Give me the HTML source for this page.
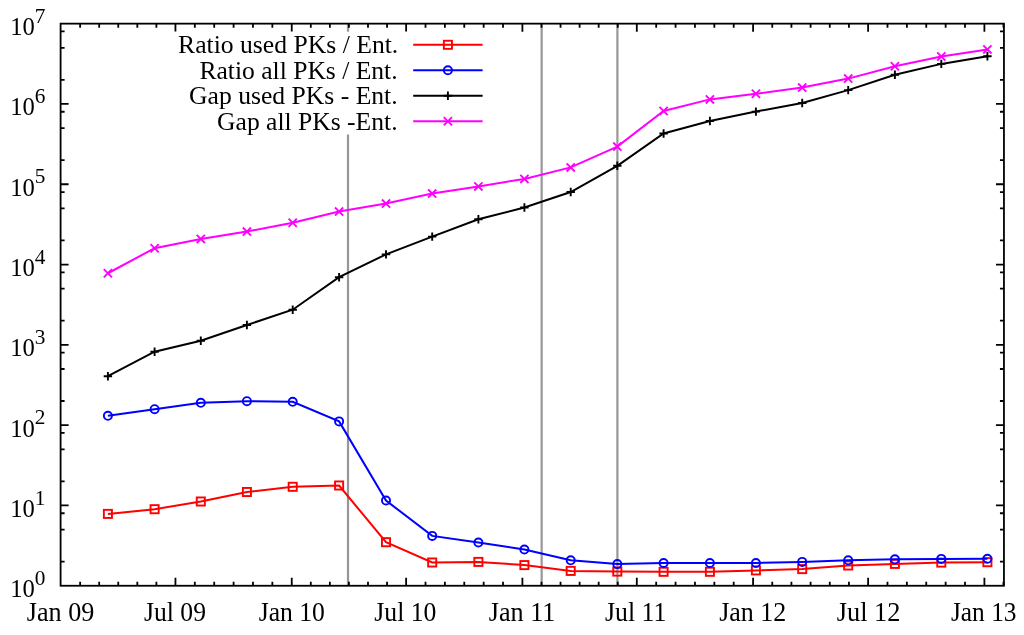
<!DOCTYPE html><html><head><meta charset="utf-8"><title>PKs vs Ent.</title><style>html,body{margin:0;padding:0;background:#fff;overflow:hidden;}svg{display:block;}text{font-family:"Liberation Serif","Times New Roman",serif;fill:#000;}</style></head><body>
<svg width="1024" height="635" viewBox="0 0 1024 635">
<rect x="0" y="0" width="1024" height="635" fill="#fff"/>
<line x1="348.0" y1="23.65" x2="348.0" y2="585.75" stroke="#979797" stroke-width="2.2"/>
<line x1="541.65" y1="23.65" x2="541.65" y2="585.75" stroke="#979797" stroke-width="2.2"/>
<line x1="617.4" y1="23.65" x2="617.4" y2="585.75" stroke="#979797" stroke-width="2.2"/>
<path d="M60.6 561.58h4M1003.95 561.58h-4M60.6 529.62h4M1003.95 529.62h-4M60.6 513.23h4M1003.95 513.23h-4M60.6 505.45h8M1003.95 505.45h-8M60.6 481.28h4M1003.95 481.28h-4M60.6 449.32h4M1003.95 449.32h-4M60.6 432.93h4M1003.95 432.93h-4M60.6 425.15h8M1003.95 425.15h-8M60.6 400.98h4M1003.95 400.98h-4M60.6 369.02h4M1003.95 369.02h-4M60.6 352.63h4M1003.95 352.63h-4M60.6 344.85h8M1003.95 344.85h-8M60.6 320.68h4M1003.95 320.68h-4M60.6 288.72h4M1003.95 288.72h-4M60.6 272.33h4M1003.95 272.33h-4M60.6 264.55h8M1003.95 264.55h-8M60.6 240.38h4M1003.95 240.38h-4M60.6 208.42h4M1003.95 208.42h-4M60.6 192.03h4M1003.95 192.03h-4M60.6 184.25h8M1003.95 184.25h-8M60.6 160.08h4M1003.95 160.08h-4M60.6 128.12h4M1003.95 128.12h-4M60.6 111.73h4M1003.95 111.73h-4M60.6 103.95h8M1003.95 103.95h-8M60.6 79.78h4M1003.95 79.78h-4M60.6 47.82h4M1003.95 47.82h-4M60.6 31.43h4M1003.95 31.43h-4M80.13 585.75v-4M80.13 23.65v4M99.19 585.75v-4M99.19 23.65v4M118.26 585.75v-4M118.26 23.65v4M137.32 585.75v-4M137.32 23.65v4M156.39 585.75v-4M156.39 23.65v4M175.45 585.75v-8M175.45 23.65v8M194.83 585.75v-4M194.83 23.65v4M214.21 585.75v-4M214.21 23.65v4M233.59 585.75v-4M233.59 23.65v4M252.97 585.75v-4M252.97 23.65v4M272.36 585.75v-4M272.36 23.65v4M291.74 585.75v-8M291.74 23.65v8M310.80 585.75v-4M310.80 23.65v4M329.87 585.75v-4M329.87 23.65v4M348.93 585.75v-4M348.93 23.65v4M368.00 585.75v-4M368.00 23.65v4M387.06 585.75v-4M387.06 23.65v4M406.13 585.75v-8M406.13 23.65v8M425.51 585.75v-4M425.51 23.65v4M444.89 585.75v-4M444.89 23.65v4M464.27 585.75v-4M464.27 23.65v4M483.65 585.75v-4M483.65 23.65v4M503.03 585.75v-4M503.03 23.65v4M522.41 585.75v-8M522.41 23.65v8M541.48 585.75v-4M541.48 23.65v4M560.54 585.75v-4M560.54 23.65v4M579.61 585.75v-4M579.61 23.65v4M598.67 585.75v-4M598.67 23.65v4M617.74 585.75v-4M617.74 23.65v4M636.80 585.75v-8M636.80 23.65v8M656.18 585.75v-4M656.18 23.65v4M675.56 585.75v-4M675.56 23.65v4M694.95 585.75v-4M694.95 23.65v4M714.33 585.75v-4M714.33 23.65v4M733.71 585.75v-4M733.71 23.65v4M753.09 585.75v-8M753.09 23.65v8M772.26 585.75v-4M772.26 23.65v4M791.43 585.75v-4M791.43 23.65v4M810.60 585.75v-4M810.60 23.65v4M829.77 585.75v-4M829.77 23.65v4M848.94 585.75v-4M848.94 23.65v4M868.11 585.75v-8M868.11 23.65v8M887.49 585.75v-4M887.49 23.65v4M906.87 585.75v-4M906.87 23.65v4M926.25 585.75v-4M926.25 23.65v4M945.64 585.75v-4M945.64 23.65v4M965.02 585.75v-4M965.02 23.65v4M984.40 585.75v-8M984.40 23.65v8M1003.46 585.75v-4M1003.46 23.65v4" stroke="#000" stroke-width="1.8" fill="none"/>
<rect x="60.6" y="23.65" width="943.35" height="562.1" fill="none" stroke="#000" stroke-width="1.8"/>
<text transform="translate(10.30 597.15) scale(0.9478 1)" font-size="26">10</text>
<text x="34.8" y="584.95" font-size="21.3">0</text>
<text transform="translate(10.30 516.85) scale(0.9478 1)" font-size="26">10</text>
<text x="34.8" y="504.65" font-size="21.3">1</text>
<text transform="translate(10.30 436.55) scale(0.9478 1)" font-size="26">10</text>
<text x="34.8" y="424.35" font-size="21.3">2</text>
<text transform="translate(10.30 356.25) scale(0.9478 1)" font-size="26">10</text>
<text x="34.8" y="344.05" font-size="21.3">3</text>
<text transform="translate(10.30 275.95) scale(0.9478 1)" font-size="26">10</text>
<text x="34.8" y="263.75" font-size="21.3">4</text>
<text transform="translate(10.30 195.65) scale(0.9478 1)" font-size="26">10</text>
<text x="34.8" y="183.45" font-size="21.3">5</text>
<text transform="translate(10.30 115.35) scale(0.9478 1)" font-size="26">10</text>
<text x="34.8" y="103.15" font-size="21.3">6</text>
<text transform="translate(10.30 35.05) scale(0.9478 1)" font-size="26">10</text>
<text x="34.8" y="22.85" font-size="21.3">7</text>
<text transform="translate(26.81 620.60) scale(0.9909 1)" font-size="26.4">Jan 09</text>
<text transform="translate(144.03 620.60) scale(0.9710 1)" font-size="26.4">Jul 09</text>
<text transform="translate(258.73 620.60) scale(0.9705 1)" font-size="26.4">Jan 10</text>
<text transform="translate(374.33 620.60) scale(0.9726 1)" font-size="26.4">Jul 10</text>
<text transform="translate(488.81 620.60) scale(0.9906 1)" font-size="26.4">Jan 11</text>
<text transform="translate(605.02 620.60) scale(0.9767 1)" font-size="26.4">Jul 11</text>
<text transform="translate(719.22 620.60) scale(0.9848 1)" font-size="26.4">Jan 12</text>
<text transform="translate(836.80 620.60) scale(0.9984 1)" font-size="26.4">Jul 12</text>
<text transform="translate(950.94 620.60) scale(0.9621 1)" font-size="26.4">Jan 13</text>
<polyline points="107.90,513.90 154.60,509.20 200.80,501.50 246.90,492.00 292.70,486.80 339.10,485.50 386.00,542.20 432.20,562.50 478.40,561.90 524.40,565.10 570.70,570.90 617.30,571.60 663.60,571.80 709.90,571.80 755.90,570.40 802.20,569.10 848.20,565.50 894.90,563.90 941.30,562.60 987.40,562.20" fill="none" stroke="#ff0000" stroke-width="2.0" stroke-linejoin="miter"/>
<rect x="103.85" y="509.85" width="8.10" height="8.10" fill="none" stroke="#ff0000" stroke-width="1.9"/>
<rect x="150.55" y="505.15" width="8.10" height="8.10" fill="none" stroke="#ff0000" stroke-width="1.9"/>
<rect x="196.75" y="497.45" width="8.10" height="8.10" fill="none" stroke="#ff0000" stroke-width="1.9"/>
<rect x="242.85" y="487.95" width="8.10" height="8.10" fill="none" stroke="#ff0000" stroke-width="1.9"/>
<rect x="288.65" y="482.75" width="8.10" height="8.10" fill="none" stroke="#ff0000" stroke-width="1.9"/>
<rect x="335.05" y="481.45" width="8.10" height="8.10" fill="none" stroke="#ff0000" stroke-width="1.9"/>
<rect x="381.95" y="538.15" width="8.10" height="8.10" fill="none" stroke="#ff0000" stroke-width="1.9"/>
<rect x="428.15" y="558.45" width="8.10" height="8.10" fill="none" stroke="#ff0000" stroke-width="1.9"/>
<rect x="474.35" y="557.85" width="8.10" height="8.10" fill="none" stroke="#ff0000" stroke-width="1.9"/>
<rect x="520.35" y="561.05" width="8.10" height="8.10" fill="none" stroke="#ff0000" stroke-width="1.9"/>
<rect x="566.65" y="566.85" width="8.10" height="8.10" fill="none" stroke="#ff0000" stroke-width="1.9"/>
<rect x="613.25" y="567.55" width="8.10" height="8.10" fill="none" stroke="#ff0000" stroke-width="1.9"/>
<rect x="659.55" y="567.75" width="8.10" height="8.10" fill="none" stroke="#ff0000" stroke-width="1.9"/>
<rect x="705.85" y="567.75" width="8.10" height="8.10" fill="none" stroke="#ff0000" stroke-width="1.9"/>
<rect x="751.85" y="566.35" width="8.10" height="8.10" fill="none" stroke="#ff0000" stroke-width="1.9"/>
<rect x="798.15" y="565.05" width="8.10" height="8.10" fill="none" stroke="#ff0000" stroke-width="1.9"/>
<rect x="844.15" y="561.45" width="8.10" height="8.10" fill="none" stroke="#ff0000" stroke-width="1.9"/>
<rect x="890.85" y="559.85" width="8.10" height="8.10" fill="none" stroke="#ff0000" stroke-width="1.9"/>
<rect x="937.25" y="558.55" width="8.10" height="8.10" fill="none" stroke="#ff0000" stroke-width="1.9"/>
<rect x="983.35" y="558.15" width="8.10" height="8.10" fill="none" stroke="#ff0000" stroke-width="1.9"/>
<polyline points="107.90,415.80 154.60,409.20 200.80,402.80 246.90,401.20 292.70,401.80 339.10,421.40 386.00,500.50 432.20,535.90 478.40,542.50 524.40,549.50 570.70,560.30 617.30,564.10 663.60,563.00 709.90,563.00 755.90,563.00 802.20,561.90 848.20,560.30 894.90,559.30 941.30,558.90 987.40,558.80" fill="none" stroke="#0000ff" stroke-width="2.0" stroke-linejoin="miter"/>
<circle cx="107.90" cy="415.80" r="4.05" fill="none" stroke="#0000ff" stroke-width="1.9"/>
<circle cx="154.60" cy="409.20" r="4.05" fill="none" stroke="#0000ff" stroke-width="1.9"/>
<circle cx="200.80" cy="402.80" r="4.05" fill="none" stroke="#0000ff" stroke-width="1.9"/>
<circle cx="246.90" cy="401.20" r="4.05" fill="none" stroke="#0000ff" stroke-width="1.9"/>
<circle cx="292.70" cy="401.80" r="4.05" fill="none" stroke="#0000ff" stroke-width="1.9"/>
<circle cx="339.10" cy="421.40" r="4.05" fill="none" stroke="#0000ff" stroke-width="1.9"/>
<circle cx="386.00" cy="500.50" r="4.05" fill="none" stroke="#0000ff" stroke-width="1.9"/>
<circle cx="432.20" cy="535.90" r="4.05" fill="none" stroke="#0000ff" stroke-width="1.9"/>
<circle cx="478.40" cy="542.50" r="4.05" fill="none" stroke="#0000ff" stroke-width="1.9"/>
<circle cx="524.40" cy="549.50" r="4.05" fill="none" stroke="#0000ff" stroke-width="1.9"/>
<circle cx="570.70" cy="560.30" r="4.05" fill="none" stroke="#0000ff" stroke-width="1.9"/>
<circle cx="617.30" cy="564.10" r="4.05" fill="none" stroke="#0000ff" stroke-width="1.9"/>
<circle cx="663.60" cy="563.00" r="4.05" fill="none" stroke="#0000ff" stroke-width="1.9"/>
<circle cx="709.90" cy="563.00" r="4.05" fill="none" stroke="#0000ff" stroke-width="1.9"/>
<circle cx="755.90" cy="563.00" r="4.05" fill="none" stroke="#0000ff" stroke-width="1.9"/>
<circle cx="802.20" cy="561.90" r="4.05" fill="none" stroke="#0000ff" stroke-width="1.9"/>
<circle cx="848.20" cy="560.30" r="4.05" fill="none" stroke="#0000ff" stroke-width="1.9"/>
<circle cx="894.90" cy="559.30" r="4.05" fill="none" stroke="#0000ff" stroke-width="1.9"/>
<circle cx="941.30" cy="558.90" r="4.05" fill="none" stroke="#0000ff" stroke-width="1.9"/>
<circle cx="987.40" cy="558.80" r="4.05" fill="none" stroke="#0000ff" stroke-width="1.9"/>
<polyline points="107.90,376.20 154.60,351.70 200.80,340.80 246.90,325.00 292.70,309.70 339.10,277.20 386.00,254.40 432.20,236.60 478.40,219.20 524.40,207.50 570.70,192.00 617.30,165.80 663.60,133.50 709.90,121.00 755.90,111.60 802.20,103.00 848.20,90.10 894.90,74.70 941.30,63.90 987.40,56.20" fill="none" stroke="#000000" stroke-width="2.0" stroke-linejoin="miter"/>
<path d="M103.70 376.20h8.40M107.90 372.00v8.40" stroke="#000000" stroke-width="1.9" fill="none"/>
<path d="M150.40 351.70h8.40M154.60 347.50v8.40" stroke="#000000" stroke-width="1.9" fill="none"/>
<path d="M196.60 340.80h8.40M200.80 336.60v8.40" stroke="#000000" stroke-width="1.9" fill="none"/>
<path d="M242.70 325.00h8.40M246.90 320.80v8.40" stroke="#000000" stroke-width="1.9" fill="none"/>
<path d="M288.50 309.70h8.40M292.70 305.50v8.40" stroke="#000000" stroke-width="1.9" fill="none"/>
<path d="M334.90 277.20h8.40M339.10 273.00v8.40" stroke="#000000" stroke-width="1.9" fill="none"/>
<path d="M381.80 254.40h8.40M386.00 250.20v8.40" stroke="#000000" stroke-width="1.9" fill="none"/>
<path d="M428.00 236.60h8.40M432.20 232.40v8.40" stroke="#000000" stroke-width="1.9" fill="none"/>
<path d="M474.20 219.20h8.40M478.40 215.00v8.40" stroke="#000000" stroke-width="1.9" fill="none"/>
<path d="M520.20 207.50h8.40M524.40 203.30v8.40" stroke="#000000" stroke-width="1.9" fill="none"/>
<path d="M566.50 192.00h8.40M570.70 187.80v8.40" stroke="#000000" stroke-width="1.9" fill="none"/>
<path d="M613.10 165.80h8.40M617.30 161.60v8.40" stroke="#000000" stroke-width="1.9" fill="none"/>
<path d="M659.40 133.50h8.40M663.60 129.30v8.40" stroke="#000000" stroke-width="1.9" fill="none"/>
<path d="M705.70 121.00h8.40M709.90 116.80v8.40" stroke="#000000" stroke-width="1.9" fill="none"/>
<path d="M751.70 111.60h8.40M755.90 107.40v8.40" stroke="#000000" stroke-width="1.9" fill="none"/>
<path d="M798.00 103.00h8.40M802.20 98.80v8.40" stroke="#000000" stroke-width="1.9" fill="none"/>
<path d="M844.00 90.10h8.40M848.20 85.90v8.40" stroke="#000000" stroke-width="1.9" fill="none"/>
<path d="M890.70 74.70h8.40M894.90 70.50v8.40" stroke="#000000" stroke-width="1.9" fill="none"/>
<path d="M937.10 63.90h8.40M941.30 59.70v8.40" stroke="#000000" stroke-width="1.9" fill="none"/>
<path d="M983.20 56.20h8.40M987.40 52.00v8.40" stroke="#000000" stroke-width="1.9" fill="none"/>
<polyline points="107.90,273.25 154.60,248.20 200.80,238.90 246.90,231.60 292.70,222.70 339.10,211.60 386.00,203.60 432.20,193.60 478.40,186.40 524.40,178.90 570.70,167.40 617.30,146.60 663.60,111.00 709.90,99.40 755.90,93.80 802.20,87.60 848.20,78.60 894.90,66.20 941.30,56.50 987.40,49.40" fill="none" stroke="#ff00ff" stroke-width="2.0" stroke-linejoin="miter"/>
<path d="M103.80 269.15l8.20 8.20M103.80 277.35l8.20 -8.20" stroke="#ff00ff" stroke-width="1.9" fill="none"/>
<path d="M150.50 244.10l8.20 8.20M150.50 252.30l8.20 -8.20" stroke="#ff00ff" stroke-width="1.9" fill="none"/>
<path d="M196.70 234.80l8.20 8.20M196.70 243.00l8.20 -8.20" stroke="#ff00ff" stroke-width="1.9" fill="none"/>
<path d="M242.80 227.50l8.20 8.20M242.80 235.70l8.20 -8.20" stroke="#ff00ff" stroke-width="1.9" fill="none"/>
<path d="M288.60 218.60l8.20 8.20M288.60 226.80l8.20 -8.20" stroke="#ff00ff" stroke-width="1.9" fill="none"/>
<path d="M335.00 207.50l8.20 8.20M335.00 215.70l8.20 -8.20" stroke="#ff00ff" stroke-width="1.9" fill="none"/>
<path d="M381.90 199.50l8.20 8.20M381.90 207.70l8.20 -8.20" stroke="#ff00ff" stroke-width="1.9" fill="none"/>
<path d="M428.10 189.50l8.20 8.20M428.10 197.70l8.20 -8.20" stroke="#ff00ff" stroke-width="1.9" fill="none"/>
<path d="M474.30 182.30l8.20 8.20M474.30 190.50l8.20 -8.20" stroke="#ff00ff" stroke-width="1.9" fill="none"/>
<path d="M520.30 174.80l8.20 8.20M520.30 183.00l8.20 -8.20" stroke="#ff00ff" stroke-width="1.9" fill="none"/>
<path d="M566.60 163.30l8.20 8.20M566.60 171.50l8.20 -8.20" stroke="#ff00ff" stroke-width="1.9" fill="none"/>
<path d="M613.20 142.50l8.20 8.20M613.20 150.70l8.20 -8.20" stroke="#ff00ff" stroke-width="1.9" fill="none"/>
<path d="M659.50 106.90l8.20 8.20M659.50 115.10l8.20 -8.20" stroke="#ff00ff" stroke-width="1.9" fill="none"/>
<path d="M705.80 95.30l8.20 8.20M705.80 103.50l8.20 -8.20" stroke="#ff00ff" stroke-width="1.9" fill="none"/>
<path d="M751.80 89.70l8.20 8.20M751.80 97.90l8.20 -8.20" stroke="#ff00ff" stroke-width="1.9" fill="none"/>
<path d="M798.10 83.50l8.20 8.20M798.10 91.70l8.20 -8.20" stroke="#ff00ff" stroke-width="1.9" fill="none"/>
<path d="M844.10 74.50l8.20 8.20M844.10 82.70l8.20 -8.20" stroke="#ff00ff" stroke-width="1.9" fill="none"/>
<path d="M890.80 62.10l8.20 8.20M890.80 70.30l8.20 -8.20" stroke="#ff00ff" stroke-width="1.9" fill="none"/>
<path d="M937.20 52.40l8.20 8.20M937.20 60.60l8.20 -8.20" stroke="#ff00ff" stroke-width="1.9" fill="none"/>
<path d="M983.30 45.30l8.20 8.20M983.30 53.50l8.20 -8.20" stroke="#ff00ff" stroke-width="1.9" fill="none"/>
<rect x="170" y="31.7" width="325" height="102.8" fill="#fff"/>
<text transform="translate(178.01 53.10) scale(0.9873 1)" font-size="26">Ratio used PKs / Ent.</text>
<line x1="413.2" y1="44.80" x2="482.6" y2="44.80" stroke="#ff0000" stroke-width="2.0"/>
<rect x="443.85" y="40.75" width="8.10" height="8.10" fill="none" stroke="#ff0000" stroke-width="1.9"/>
<text transform="translate(199.42 78.57) scale(0.9839 1)" font-size="26">Ratio all PKs / Ent.</text>
<line x1="413.2" y1="70.27" x2="482.6" y2="70.27" stroke="#0000ff" stroke-width="2.0"/>
<circle cx="447.90" cy="70.27" r="4.05" fill="none" stroke="#0000ff" stroke-width="1.9"/>
<text transform="translate(189.01 104.04) scale(0.9866 1)" font-size="26">Gap used PKs - Ent.</text>
<line x1="413.2" y1="95.74" x2="482.6" y2="95.74" stroke="#000000" stroke-width="2.0"/>
<path d="M443.70 95.74h8.40M447.90 91.54v8.40" stroke="#000000" stroke-width="1.9" fill="none"/>
<text transform="translate(217.12 129.51) scale(0.9840 1)" font-size="26">Gap all PKs -Ent.</text>
<line x1="413.2" y1="121.21" x2="482.6" y2="121.21" stroke="#ff00ff" stroke-width="2.0"/>
<path d="M443.80 117.11l8.20 8.20M443.80 125.31l8.20 -8.20" stroke="#ff00ff" stroke-width="1.9" fill="none"/>
</svg></body></html>
